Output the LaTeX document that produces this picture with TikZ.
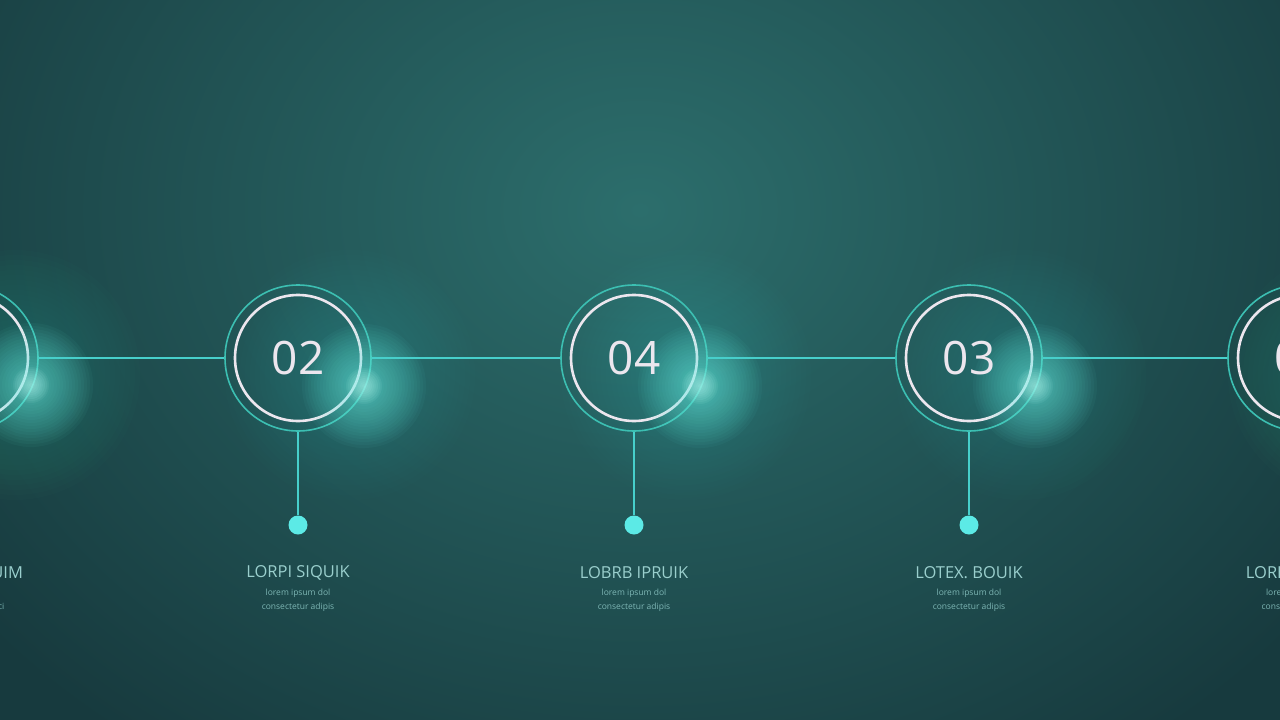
\documentclass[tikz,border=0pt]{standalone}
\usepackage{fontspec}
\setmainfont{Open Sans}
\definecolor{bgin}{HTML}{2C6E6C}
\definecolor{bgout}{HTML}{173A3E}
\definecolor{ringw}{HTML}{ECE6EE}
\definecolor{ringt}{HTML}{3CBFB2}
\definecolor{linec}{HTML}{47CFCB}
\definecolor{dotc}{HTML}{5CEAE6}
\definecolor{glowc}{HTML}{70F8EA}
\definecolor{hotc}{HTML}{C8FFF8}
\definecolor{capc}{HTML}{9ACFCD}
\definecolor{subc}{HTML}{7DB6B4}
\tikzset{
  outerring/.style={circle, draw=ringt, line width=1.6pt, minimum size=146pt, inner sep=0pt},
  innerring/.style={draw=ringw, line width=2.6pt},
  numtext/.style={font=\fontsize{46}{46}\selectfont, text=ringw},
  link/.style={draw=linec, line width=1.6pt},
  dotn/.style={circle, fill=dotc, minimum size=19pt, inner sep=0pt},
  captext/.style={font=\fontsize{16.5}{16}\selectfont, text=capc},
  subtext/.style={font=\fontsize{8.5}{14}\selectfont, text=subc, align=center}
}
\begin{document}
\begin{tikzpicture}[x=1pt,y=-1pt]
\useasboundingbox (0,0) rectangle (1280,720);
\clip (0,0) rectangle (1280,720);
\shade[inner color=bgin, outer color=bgout] (-200,-460) rectangle (1480,880);
% broad haze
\foreach \gx/\gy in {15/375, 350/375, 686/375, 1021/375, 1353/375}{
  \foreach \r in {125,120,...,5}{
    \fill[glowc, opacity=0.012] (\gx,\gy) circle (\r);
  }
}
% circles
\foreach \n/\x in {c1/-35, c2/298, c3/634, c4/969, c5/1301}{
  \node[outerring] (\n) at (\x,358) {};
  \draw[innerring] (\n.center) circle (63);
}
% bright cores on the lower right of each ring
\foreach \gx/\gy in {31/385, 364/386, 700/386, 1035/386, 1367/386}{
  \foreach \r in {62,59,...,2}{
    \fill[glowc, opacity=0.04] (\gx,\gy) circle (\r);
  }
  \foreach \r in {18,16,...,2}{
    \fill[hotc, opacity=0.07] (\gx,\gy) circle (\r);
  }
}
% numbers
\foreach \n/\t in {c1/01, c2/02, c3/04, c4/03, c5/05}{
  \node[numtext] at (\n.center) {\t};
}
% horizontal links
\draw[link] (c1) -- (c2);
\draw[link] (c2) -- (c3);
\draw[link] (c3) -- (c4);
\draw[link] (c4) -- (c5);
% stems and dots
\foreach \n/\x in {2/298, 3/634, 4/969}{
  \node[dotn] (d\n) at (\x,525) {};
  \draw[link, line width=1.4pt] (c\n) -- (d\n);
}
% captions
\node[captext] (t1) at (-35,573) {LOREM IPRUIM};
\node[captext] (t2) at (298,573) {LORPI SIQUIK};
\node[captext] (t3) at (634,573) {LOBRB IPRUIK};
\node[captext] (t4) at (969,573) {LOTEX. BOUIK};
\node[captext] (t5) at (1301,573) {LOREM IPSUM};
\node[subtext] (s1) at (-35,600) {lorem ipsum dolo\\consectetur adipisci};
\node[subtext] (s2) at (298,600) {lorem ipsum dol\\consectetur adipis};
\node[subtext] (s3) at (634,600) {lorem ipsum dol\\consectetur adipis};
\node[subtext] (s4) at (969,600) {lorem ipsum dol\\consectetur adipis};
\node[subtext] (s5) at (1301,600) {lorem ipsum dolo\\consectetur adipisci};
\end{tikzpicture}
\end{document}
